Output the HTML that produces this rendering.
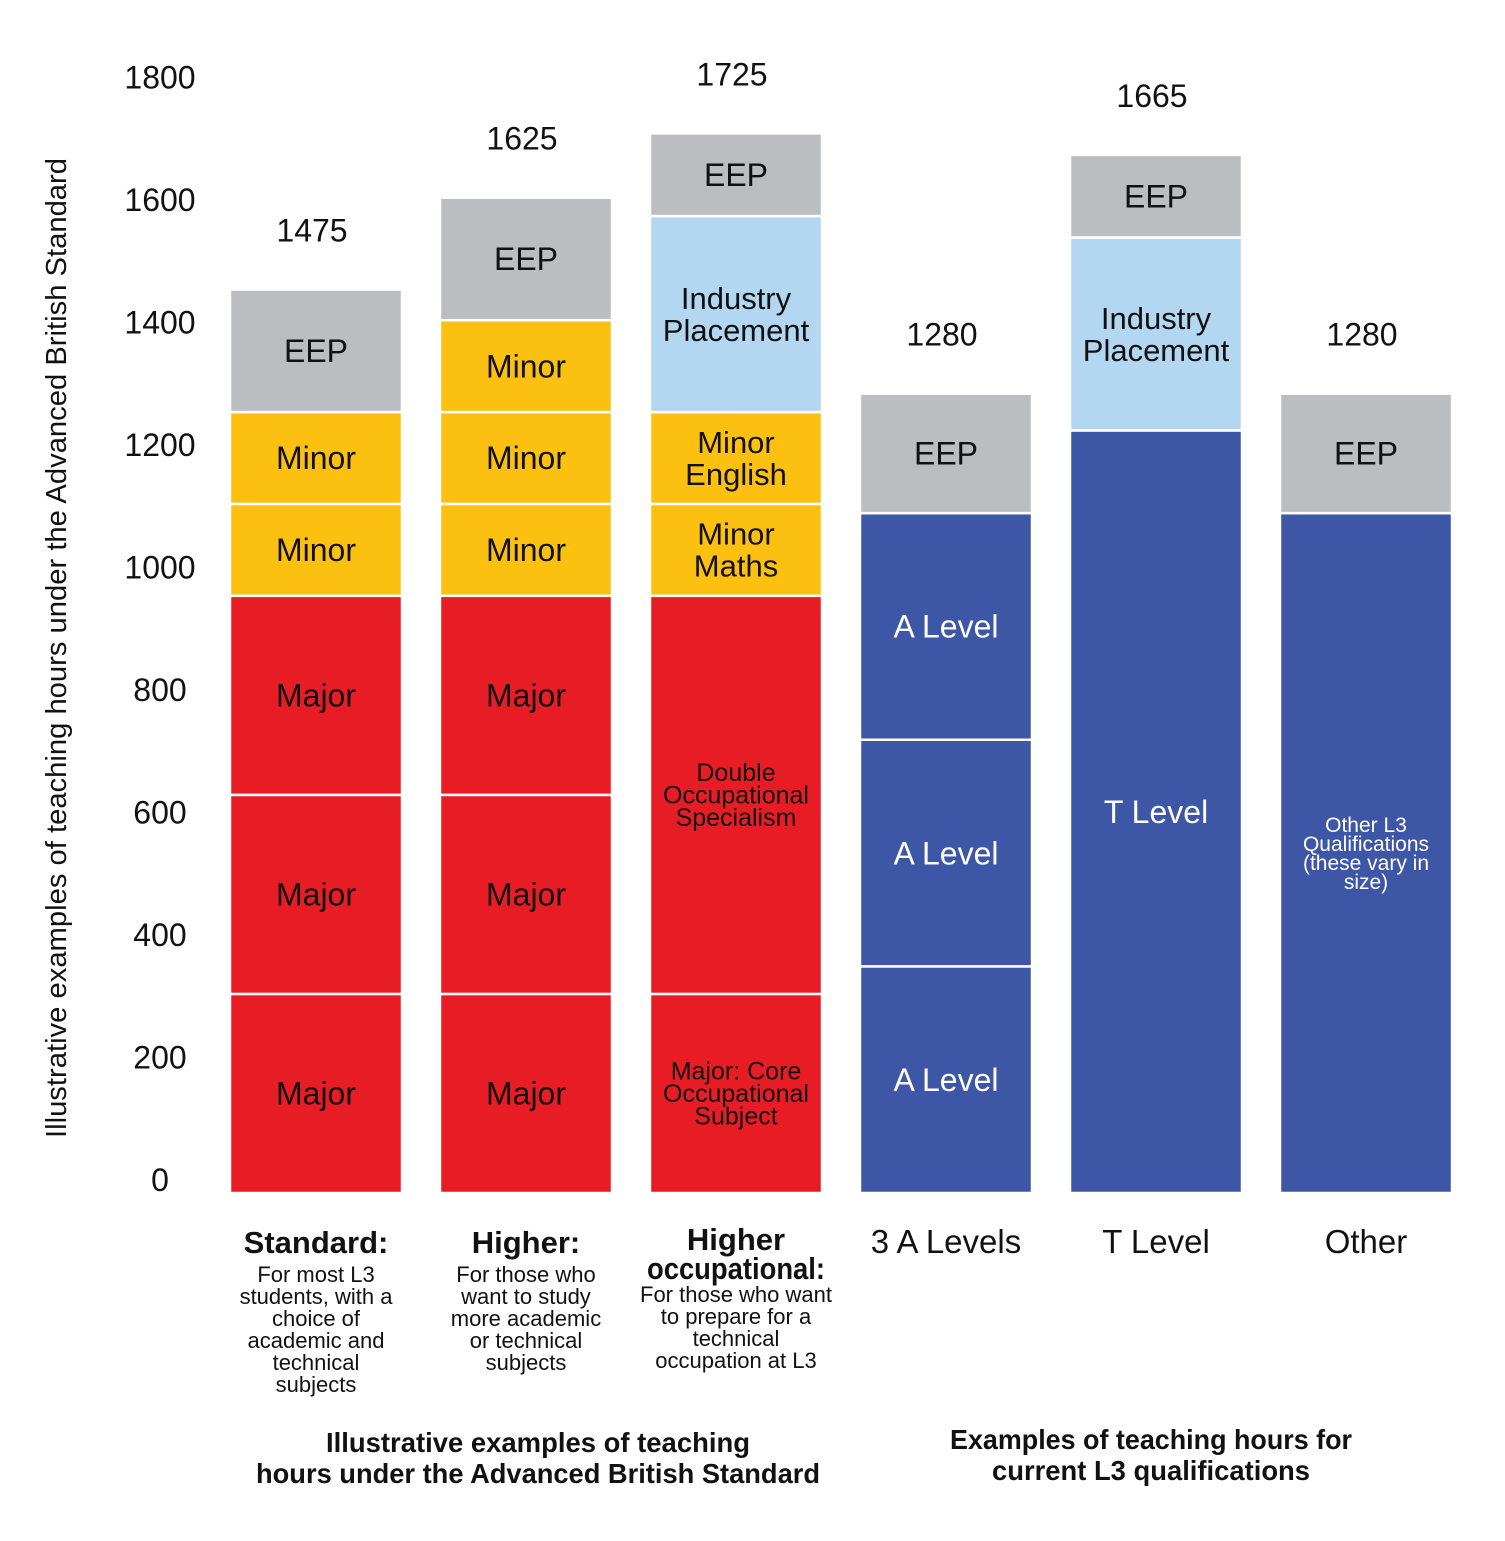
<!DOCTYPE html>
<html><head><meta charset="utf-8">
<style>
html,body{margin:0;padding:0;background:#fff;}
body{width:1505px;height:1536px;position:relative;overflow:hidden;font-family:"Liberation Sans Narrow","Liberation Sans",sans-serif;}
svg text{font-family:"Liberation Sans Narrow","Liberation Sans",sans-serif;}
</style></head>
<body>
<svg id="chart" width="1505" height="1536" xmlns="http://www.w3.org/2000/svg"></svg>
<script>
const categories = ["Standard","Higher","Higher occupational","3 A Levels","T Level","Other"];
const totals = ["1475","1625","1725","1280","1665","1280"];
const segValues = [
  [325,325,325,150,150,200],
  [325,325,325,150,150,150,200],
  [325,650,150,150,320,135],
  [370,370,370,195],
  [1245,315,135],
  [1110,195]
];
const segLabels = [
  ["Major","Major","Major","Minor","Minor","EEP"],
  ["Major","Major","Major","Minor","Minor","Minor","EEP"],
  ["Major: Core|Occupational|Subject","Double|Occupational|Specialism","Minor|Maths","Minor|English","Industry|Placement","EEP"],
  ["A Level","A Level","A Level","EEP"],
  ["T Level","Industry|Placement","EEP"],
  ["Other L3|Qualifications|(these vary in|size)","EEP"]
];
const segKinds = [
  ["major","major","major","minor","minor","eep"],
  ["major","major","major","minor","minor","minor","eep"],
  ["major","major","minor","minor","ip","eep"],
  ["blue","blue","blue","eep"],
  ["blue","ip","eep"],
  ["blue","eep"]
];
const yTicks = [0,200,400,600,800,1000,1200,1400,1600,1800];

const colors = {major:"#e81c24",minor:"#fcc010",eep:"#bcbdc0",ip:"#b3d7f1",blue:"#3d56a6"};
const svg = document.getElementById('chart');
const NS = "http://www.w3.org/2000/svg";
const y = v => 1193 - v*0.6125;
const x = i => 230 + i*210;
const BW = 172;
function mk(tag, attrs, parent){const e=document.createElementNS(NS,tag);for(const k in attrs)e.setAttribute(k,attrs[k]);(parent||svg).appendChild(e);return e;}

yTicks.forEach(t=>{
  const e = mk('text',{x:160,y:y(t)-2,'text-anchor':'middle','font-size':32,fill:'#111'});
  e.textContent = t;
  
  
});
const yt = mk('text',{x:0,y:0,transform:'translate(66,648) rotate(-90)','text-anchor':'middle','font-size':29,fill:'#111',textLength:980,lengthAdjust:'spacingAndGlyphs'});
yt.textContent = "Illustrative examples of teaching hours under the Advanced British Standard";



categories.forEach((c,i)=>{
  const g = mk('g',{});
  
  
  let cum=0;
  segValues[i].forEach((v,j)=>{
    const y0=y(cum), y1=y(cum+v);
    const r = mk('rect',{x:x(i),y:y1,width:BW,height:Math.max(0,y0-y1),fill:colors[segKinds[i][j]],stroke:'#fff','stroke-width':2.5},g);
    
    
    const lines = segLabels[i][j].split('|');
    const small = lines.length>2;
    const fs = small ? (lines.length>3?21:25) : (lines.length>1?31:32);
    const lh = small ? fs*0.9 : 32;
    const cy = (y0+y1)/2;
    const col = (segKinds[i][j]==='blue') ? '#fff' : '#111';
    lines.forEach((l,k)=>{
      const t = mk('text',{x:x(i)+BW/2,y:cy+(k-(lines.length-1)/2)*lh+fs*0.35,'text-anchor':'middle','font-size':fs,fill:col},g);
      t.textContent=l;
      
      
    });
    cum+=v;
  });
  const tt = mk('text',{x:x(i)+BW/2-4,y:y(cum)-48,'text-anchor':'middle','font-size':32,fill:'#111'});
  tt.textContent = totals[i];
  
  
});

const catTitles = [["Standard:"],["Higher:"],["Higher","occupational:"],["3 A Levels"],["T Level"],["Other"]];
const catSubs = [
 ["For most L3","students, with a","choice of","academic and","technical","subjects"],
 ["For those who","want to study","more academic","or technical","subjects"],
 ["For those who want","to prepare for a","technical","occupation at L3"],
 [],[],[]
];
categories.forEach((c,i)=>{
  const cx = x(i)+BW/2;
  const bold = i<3;
  catTitles[i].forEach((l,k)=>{
    const t = mk('text',{x:cx,y:(catTitles[i].length>1?1250:1253)+k*29,'text-anchor':'middle','font-size':bold?31:33,'font-weight':bold?'bold':'normal',fill:'#111'});
    t.textContent=l;
    if(l==="occupational:"){t.setAttribute('textLength',178);t.setAttribute('lengthAdjust','spacingAndGlyphs');}
    
    
  });
  const start = catTitles[i].length>1 ? 1302 : 1282;
  catSubs[i].forEach((l,k)=>{
    const t = mk('text',{x:cx,y:start+k*22,'text-anchor':'middle','font-size':22,fill:'#111'});
    t.textContent=l;
    
    
  });
});

[[538,1452,"Illustrative examples of teaching",424],[538,1483,"hours under the Advanced British Standard",564],
 [1151,1449,"Examples of teaching hours for",402],[1151,1480,"current L3 qualifications",318]].forEach(a=>{
  const t = mk('text',{x:a[0],y:a[1],'text-anchor':'middle','font-size':28,'font-weight':'bold',fill:'#111',textLength:a[3],lengthAdjust:'spacingAndGlyphs'});
  t.textContent=a[2];
  
  
});
</script>
</body></html>
